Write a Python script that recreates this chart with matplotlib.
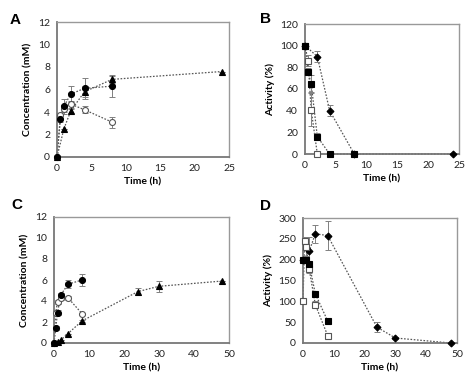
import matplotlib
matplotlib.use("Agg")
import matplotlib.pyplot as plt
import numpy as np

plt.rcParams['font.family'] = ['Lato', 'DejaVu Sans']

# Panel A (concentration, mM)
a_t_fc = [0, 0.5, 1, 2, 4, 8]
a_fc = [0, 3.4, 4.5, 5.6, 6.1, 6.3]
a_fc_err = [0, 0.3, 0.7, 0.7, 0.9, 1.0]
a_t_oc = [0, 0.5, 1, 2, 4, 8]
a_oc = [0, 3.7, 4.3, 4.7, 4.2, 3.1]
a_oc_err = [0, 0.2, 0.3, 0.3, 0.3, 0.5]
a_t_tri = [0, 1, 2, 4, 8, 24]
a_tri = [0, 2.5, 4.1, 5.8, 6.9, 7.6]
a_tri_err = [0, 0, 0.2, 0.5, 0.3, 0]

# Panel B (activity, %)
b_t_fs = [0, 0.5, 1, 2, 4, 8]
b_fs = [100, 76, 65, 16, 0, 0]
b_fs_err = [0, 3, 8, 3, 0, 0]
b_t_os = [0, 0.5, 1, 2]
b_os = [100, 86, 41, 0]
b_os_err = [0, 5, 15, 0]
b_t_dm = [0, 2, 4, 8, 24]
b_dm = [100, 90, 40, 0, 0]
b_dm_err = [0, 5, 5, 0, 0]

# Panel C (concentration, mM)
c_t_fc = [0, 0.5, 1, 2, 4, 8]
c_fc = [0, 1.4, 2.9, 4.6, 5.6, 6.0]
c_fc_err = [0, 0.2, 0.2, 0.2, 0.4, 0.6]
c_t_oc = [0, 0.5, 1, 2, 4, 8]
c_oc = [0, 2.9, 3.9, 4.3, 4.3, 2.8]
c_oc_err = [0, 0.2, 0.2, 0.2, 0.2, 0.1]
c_t_tri = [0, 1, 2, 4, 8, 24, 30, 48]
c_tri = [0, 0.1, 0.3, 0.9, 2.1, 4.9, 5.4, 5.9]
c_tri_err = [0, 0, 0, 0, 0.1, 0.3, 0.5, 0]

# Panel D (activity, %)
d_t_fs = [0, 1, 2, 4, 8]
d_fs = [200, 200, 190, 118, 53]
d_fs_err = [0, 5, 5, 5, 5]
d_t_os = [0, 0.5, 1, 2, 4, 8]
d_os = [100, 245, 230, 178, 92, 18]
d_os_err = [0, 10, 20, 10, 8, 5]
d_t_dm = [0, 2, 4, 8, 24, 30, 48]
d_dm = [200, 220, 262, 258, 38, 12, 0]
d_dm_err = [0, 35, 22, 35, 12, 3, 0]

fig = plt.figure(figsize=(4.74, 3.87), dpi=100)
W, H = 474, 387

def ax_at(x0, x1, y0, y1):
    return fig.add_axes([x0 / W, 1 - y1 / H, (x1 - x0) / W, (y1 - y0) / H])

axA = ax_at(57, 229, 22, 157)
axB = ax_at(305, 459, 24, 154)
axC = ax_at(54, 229, 217, 343)
axD = ax_at(303, 457, 218, 343)

def series(ax, t, y, err, marker, filled, ms=4.3):
    ax.plot(t, y, linestyle=(0, (1.3, 1.3)), color='#555555', lw=0.9, zorder=2)
    ax.errorbar(t, y, yerr=err, fmt='none', ecolor='#808080', elinewidth=0.7,
                capsize=2, capthick=0.7, zorder=3)
    ax.plot(t, y, linestyle='none', marker=marker, ms=ms,
            markerfacecolor='black' if filled else 'white',
            markeredgecolor='black' if filled else '#555555',
            markeredgewidth=0.8, zorder=4)

def style(ax, xmax, xstep, ymax, ystep, ylabel, letter, lx, ly):
    ax.set_xlim(0, xmax)
    ax.set_ylim(0, ymax)
    ax.set_xticks(np.arange(0, xmax + 0.1, xstep))
    ax.set_yticks(np.arange(0, ymax + 0.1, ystep))
    ax.tick_params(length=0, labelsize=7.5, pad=5, colors='#222222')
    for s in ax.spines.values():
        s.set_color('#999999')
        s.set_linewidth(1.0)
    ax.spines['left'].set_color('#777777')
    ax.spines['bottom'].set_color('#777777')
    ax.spines['left'].set_linewidth(1.3)
    ax.spines['bottom'].set_linewidth(1.3)
    ax.set_xlabel('Time (h)', fontsize=7.5, fontweight='bold', labelpad=3)
    ax.set_ylabel(ylabel, fontsize=7.5, fontweight='bold', labelpad=4)
    fig.text(lx / W, 1 - ly / H, letter, fontsize=11, fontweight='bold',
             ha='left', va='center', family='Liberation Sans')

series(axA, a_t_oc, a_oc, a_oc_err, 'o', False)
series(axA, a_t_tri, a_tri, a_tri_err, '^', True)
series(axA, a_t_fc, a_fc, a_fc_err, 'o', True)
style(axA, 25, 5, 12, 2, 'Concentration (mM)', 'A', 10, 20)

series(axB, b_t_dm, b_dm, b_dm_err, 'D', True, ms=3.5)
series(axB, b_t_os, b_os, b_os_err, 's', False)
series(axB, b_t_fs, b_fs, b_fs_err, 's', True, ms=4.8)
style(axB, 25, 5, 120, 20, 'Activity (%)', 'B', 260, 19)

series(axC, c_t_oc, c_oc, c_oc_err, 'o', False)
series(axC, c_t_tri, c_tri, c_tri_err, '^', True)
series(axC, c_t_fc, c_fc, c_fc_err, 'o', True)
style(axC, 50, 10, 12, 2, 'Concentration (mM)', 'C', 11, 205)

series(axD, d_t_dm, d_dm, d_dm_err, 'D', True, ms=3.5)
series(axD, d_t_os, d_os, d_os_err, 's', False)
series(axD, d_t_fs, d_fs, d_fs_err, 's', True, ms=4.8)
style(axD, 50, 10, 300, 50, 'Activity (%)', 'D', 260, 206)

for ax in (axA, axB, axC, axD):
    for l in ax.lines:
        l.set_clip_on(False)

fig.savefig('out.png', dpi=100)
